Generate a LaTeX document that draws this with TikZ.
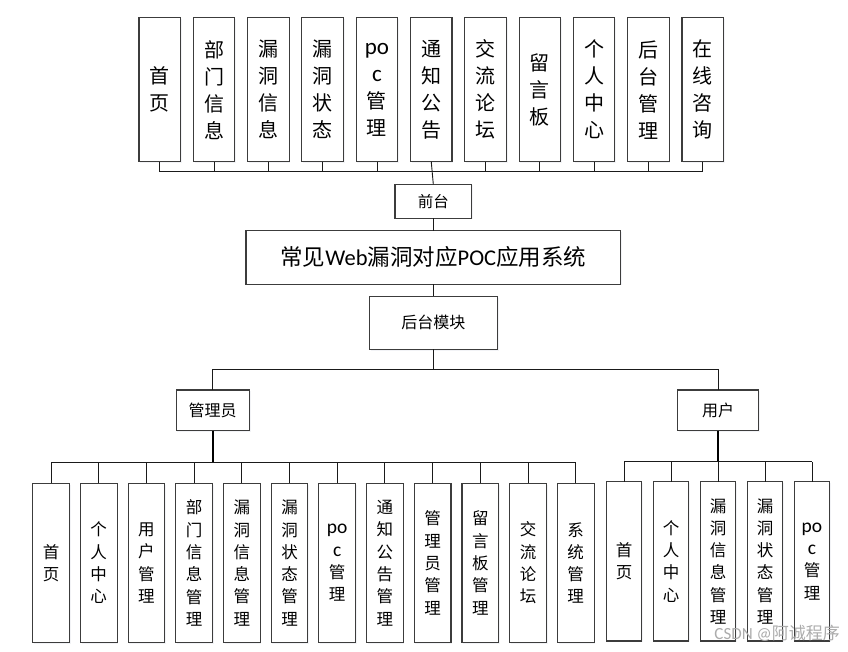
\documentclass[tikz,border=0pt]{standalone}
\usepackage{fontspec}
\setmainfont{Carlito}
\newfontfamily\cjk{Noto Sans CJK SC}
\newfontfamily\lat{Carlito}
\usetikzlibrary{shadows}
\definecolor{boxc}{HTML}{3C3C3C}
\definecolor{linec}{HTML}{1A1A1A}
\definecolor{shadc}{HTML}{8090B0}
\begin{document}
\begin{tikzpicture}[x=1pt,y=-1pt,
  box/.style={draw=boxc,line width=1.1pt,fill=white,inner sep=0pt,outer sep=0pt,align=center,
    drop shadow={fill=shadc,opacity=0.10,shadow xshift=1.2pt,shadow yshift=-1.2pt}},
  tbox/.style={box,minimum width=41.5pt,minimum height=144pt,font=\cjk\fontsize{20}{27}\selectfont},
  abox/.style={box,minimum width=36.7pt,minimum height=159.4pt,font=\cjk\fontsize{16.5}{22.3}\selectfont},
  ubox/.style={box,minimum width=34.7pt,minimum height=159.3pt,font=\cjk\fontsize{16.5}{22.3}\selectfont},
  conn/.style={draw=linec,line width=0.9pt},
  heavyconn/.style={draw=black,line width=1.8pt}]
\useasboundingbox (0,0) rectangle (848,652);
\fill[white] (0,0) rectangle (848,652);

% top row
\foreach \t [count=\i] in {{首\\页},{部\\门\\信\\息},{漏\\洞\\信\\息},{漏\\洞\\状\\态},{{\lat\fontsize{23}{27}\selectfont po}\\{\lat\fontsize{23}{27}\selectfont c}\\管\\理},{通\\知\\公\\告},{交\\流\\论\\坛},{留\\言\\板},{个\\人\\中\\心},{后\\台\\管\\理},{在\\线\\咨\\询}}
  \node[tbox] (t\i) at ({159.75+54.3*(\i-1)},89.7) {\t};

\coordinate (tbus) at (0,171.7);
\coordinate (mbus) at (0,369.3);
\coordinate (abus) at (0,462.7);
\coordinate (ubus) at (0,461.7);

\node[box,minimum width=76.7pt,minimum height=34pt,font=\cjk\fontsize{15.5}{16}\selectfont] (qt) at (433.3,201.3) {前台};
\node[box,minimum width=374.7pt,minimum height=53.3pt,font=\fontsize{22.5}{24}\selectfont] (main) at (433.3,257.4) {{\cjk 常见}Web{\cjk 漏洞对应}POC{\cjk 应用系统}};
\node[box,minimum width=128pt,minimum height=53pt,font=\cjk\fontsize{16}{17}\selectfont] (ht) at (433.3,322.8) {后台模块};
\node[box,minimum width=73.3pt,minimum height=40.7pt,font=\cjk\fontsize{16}{17}\selectfont] (gly) at (212.7,410.3) {管理员};
\node[box,minimum width=81.3pt,minimum height=40.7pt,font=\cjk\fontsize{16}{17}\selectfont] (yh) at (718,410.3) {用户};

% admin row
\foreach \t [count=\i] in {{首\\页},{个\\人\\中\\心},{用\\户\\管\\理},{部\\门\\信\\息\\管\\理},{漏\\洞\\信\\息\\管\\理},{漏\\洞\\状\\态\\管\\理},{{\lat\fontsize{19.5}{22.3}\selectfont po}\\{\lat\fontsize{19.5}{22.3}\selectfont c}\\管\\理},{通\\知\\公\\告\\管\\理},{管\\理\\员\\管\\理},{留\\言\\板\\管\\理},{交\\流\\论\\坛},{系\\统\\管\\理}}
  \node[abox] (a\i) at ({51+47.7*(\i-1)},563) {\t};

% user row
\foreach \t [count=\i] in {{首\\页},{个\\人\\中\\心},{漏\\洞\\信\\息\\管\\理},{漏\\洞\\状\\态\\管\\理},{{\lat\fontsize{19.5}{22.3}\selectfont po}\\{\lat\fontsize{19.5}{22.3}\selectfont c}\\管\\理}}
  \node[ubox] (u\i) at ({624+47*(\i-1)},561.3) {\t};

% top connectors
\foreach \i in {1,2,3,4,5,7,8,9,10,11}
  \draw[conn] (t\i.south) -- (t\i.south |- tbus);
\draw[conn] (t1.south |- tbus) -- (t11.south |- tbus);
\draw[conn] (t6.south) -- (qt.north);
\draw[conn] (qt.south) -- (main.north);
\draw[conn] (main.south) -- (ht.north);
\draw[conn] (ht.south) -- (ht.south |- mbus);
\draw[conn] (gly.north |- mbus) -- (yh.north |- mbus);
\draw[conn] (gly.north |- mbus) -- (gly.north);
\draw[conn] (yh.north |- mbus) -- (yh.north);

% admin connectors
\draw[heavyconn] (gly.south) -- (gly.south |- abus);
\draw[conn] (a1.north |- abus) -- (a12.north |- abus);
\foreach \i in {1,...,12}
  \draw[conn] (a\i.north) -- (a\i.north |- abus);

% user connectors
\draw[heavyconn] (yh.south) -- (yh.south |- ubus);
\draw[conn] (u1.north |- ubus) -- (u5.north |- ubus);
\foreach \i in {1,...,5}
  \draw[conn] (u\i.north) -- (u\i.north |- ubus);

\node[text=gray!65,font=\fontsize{17}{17}\selectfont,anchor=east,inner sep=0pt] (wm) at (840,633) {CSDN @{\cjk 阿诚程序}};
\end{tikzpicture}
\end{document}
